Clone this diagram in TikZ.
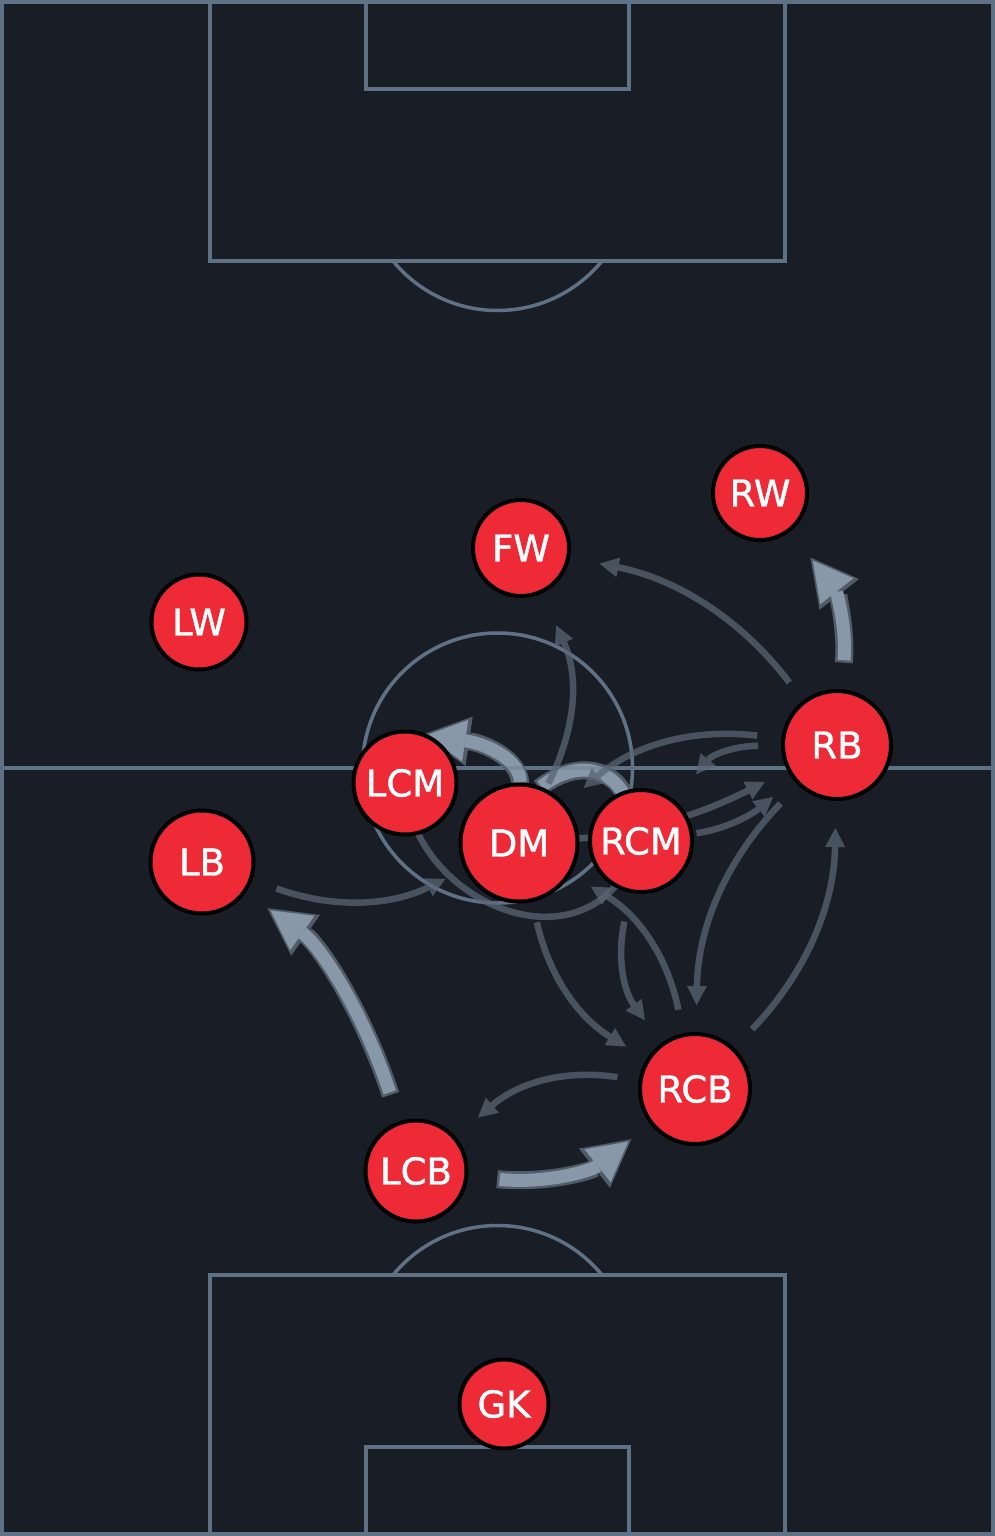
\documentclass[tikz,border=0pt]{standalone}
\usepackage{fontspec}
\setmainfont{DejaVu Sans}
\newfontfamily\labelfont{DejaVu Sans}[FakeBold=1.2]
\usetikzlibrary{arrows.meta}
\definecolor{bg}{HTML}{191D25}
\definecolor{pline}{HTML}{5F7185}
\definecolor{pred}{HTML}{EE2A36}
\definecolor{thinc}{HTML}{5A6473}
\definecolor{thickfill}{HTML}{8898A8}
\definecolor{thickline}{HTML}{515C69}
\pgfdeclarelayer{back}
\pgfdeclarelayer{arr}
\pgfsetlayers{back,arr,main}
\newcommand{\thickpass}[6]{%
  \draw[passbigout, shorten <=#5pt, shorten >=#6pt] (#1) .. controls (#2) and (#3) .. (#4);
  \draw[passbigin, shorten <=#5pt+2.5pt, shorten >=#6pt+4pt] (#1) .. controls (#2) and (#3) .. (#4);
}
\begin{document}
\begin{tikzpicture}[x=1pt,y=-1pt,
  player/.style={circle, draw=black, line width=4pt, fill=pred, text=white,
    inner sep=0pt, outer sep=0pt, font=\labelfont\fontsize{37}{40}\selectfont},
  pitchline/.style={draw=pline, line width=3.5pt},
  passthin/.style={draw=thinc, opacity=0.75, line width=6.5pt,
    -{Triangle[length=19pt,width=20pt,line width=0pt]}},
  passbigout/.style={draw=thickline, line width=18pt,
    -{Triangle[length=47pt,width=50pt,line width=0pt]}},
  passbigin/.style={draw=thickfill, line width=13pt,
    -{Triangle[length=39pt,width=42pt,line width=0pt]}},
]
\useasboundingbox (0,0) rectangle (995,1536);

% players
\node[player, minimum size=94pt]  (RW)  at (760,493)  {RW};
\node[player, minimum size=96pt]  (FW)  at (521,548)  {FW};
\node[player, minimum size=95pt]  (LW)  at (199,622)  {LW};
\node[player, minimum size=108pt] (RB)  at (837,745)  {RB};
\node[player, minimum size=103pt] (LCM) at (405,783)  {LCM};
\node[player, minimum size=117pt] (DM)  at (519,843)  {DM};
\node[player, minimum size=102pt] (RCM) at (641,841)  {RCM};
\node[player, minimum size=103pt] (LB)  at (202,862)  {LB};
\node[player, minimum size=110pt] (RCB) at (695,1089) {RCB};
\node[player, minimum size=101pt] (LCB) at (416,1171) {LCB};
\node[player, minimum size=89pt]  (GK)  at (504,1404) {GK};

% pitch
\begin{pgfonlayer}{back}
  \fill[bg] (0,0) rectangle (995,1536);
  \draw[pitchline] (2,2) rectangle (993,1534);
  \draw[pitchline] (2,768) -- (993,768);
  \draw[pitchline] (497.5,768) circle[radius=135pt];
  \draw[pitchline] (210,2) rectangle (785,261);
  \draw[pitchline] (366,2) rectangle (629,89);
  \draw[pitchline] (210,1534) rectangle (785,1275);
  \draw[pitchline] (366,1534) rectangle (629,1447);
  \begin{scope}
    \clip (0,261) rectangle (995,768);
    \draw[pitchline] (497.5,175.5) circle[radius=135pt];
  \end{scope}
  \begin{scope}
    \clip (0,768) rectangle (995,1275);
    \draw[pitchline] (497.5,1360.5) circle[radius=135pt];
  \end{scope}
\end{pgfonlayer}

% passes
\begin{pgfonlayer}{arr}
  \thickpass{RB}{847,624}{835,589}{RW}{28.6}{34.7}
  \thickpass{DM}{520.7,761}{488,744}{LCM.70}{0}{0}
  \thickpass{DM.70}{583,755}{617,774}{RCM.center}{0}{0}
  \thickpass{LCB}{361,1006}{318,944}{LB}{29.8}{28.4}
  \thickpass{LCB}{546,1184}{591,1171}{RCB}{31}{26}

  \draw[passthin, shorten <=24.6pt, shorten >=32.2pt] (RB) .. controls (741,619) and (677,579) .. (FW);
  \draw[passthin, shorten <=8pt, shorten >=37pt] (DM) .. controls (575,730) and (580,678) .. (FW);
  \draw[passthin, shorten <=26.4pt, shorten >=26.5pt] (RB) .. controls (692,728) and (634,745) .. (DM);
  \draw[passthin, shorten <=25pt, shorten >=35.6pt] (RB) .. controls (733,746) and (712,755) .. (RCM);
  \draw[passthin, shorten >=27pt] (DM) .. controls (638,834) and (700,815) .. (RB);
  \draw[passthin, shorten <=5pt, shorten >=28.3pt] (RCM) .. controls (726,829) and (751,815) .. (RB);
  \draw[passthin, shorten <=27.3pt, shorten >=29pt] (RB) .. controls (726,860) and (698,927) .. (RCB);
  \draw[passthin, shorten <=27.7pt, shorten >=29pt] (RCB) .. controls (806,973) and (834,906) .. (RB);
  \draw[passthin, shorten <=26pt, shorten >=25.5pt] (RCB) .. controls (667,955) and (638,915) .. (DM);
  \draw[passthin, shorten <=31.2pt, shorten >=30.2pt] (RCM) .. controls (617,957) and (623,990) .. (RCB);
  \draw[passthin, shorten <=22.8pt, shorten >=26pt] (DM) .. controls (549,976) and (578,1017) .. (RCB);
  \draw[passthin, shorten <=23.5pt, shorten >=31.3pt] (RCB) .. controls (564,1069) and (518,1083) .. (LCB);
  \draw[passthin, shorten <=27.5pt, shorten >=23.4pt] (LB) .. controls (334,909) and (390,906) .. (DM);
  \draw[passthin] (LCM.center) .. controls (410,900) and (580,975) .. (RCM.center);

  % pitch lines showing faintly through the passes
  \draw[pitchline, opacity=0.3] (2,768) -- (993,768);
  \draw[pitchline, opacity=0.3] (497.5,768) circle[radius=135pt];
\end{pgfonlayer}
\end{tikzpicture}
\end{document}
